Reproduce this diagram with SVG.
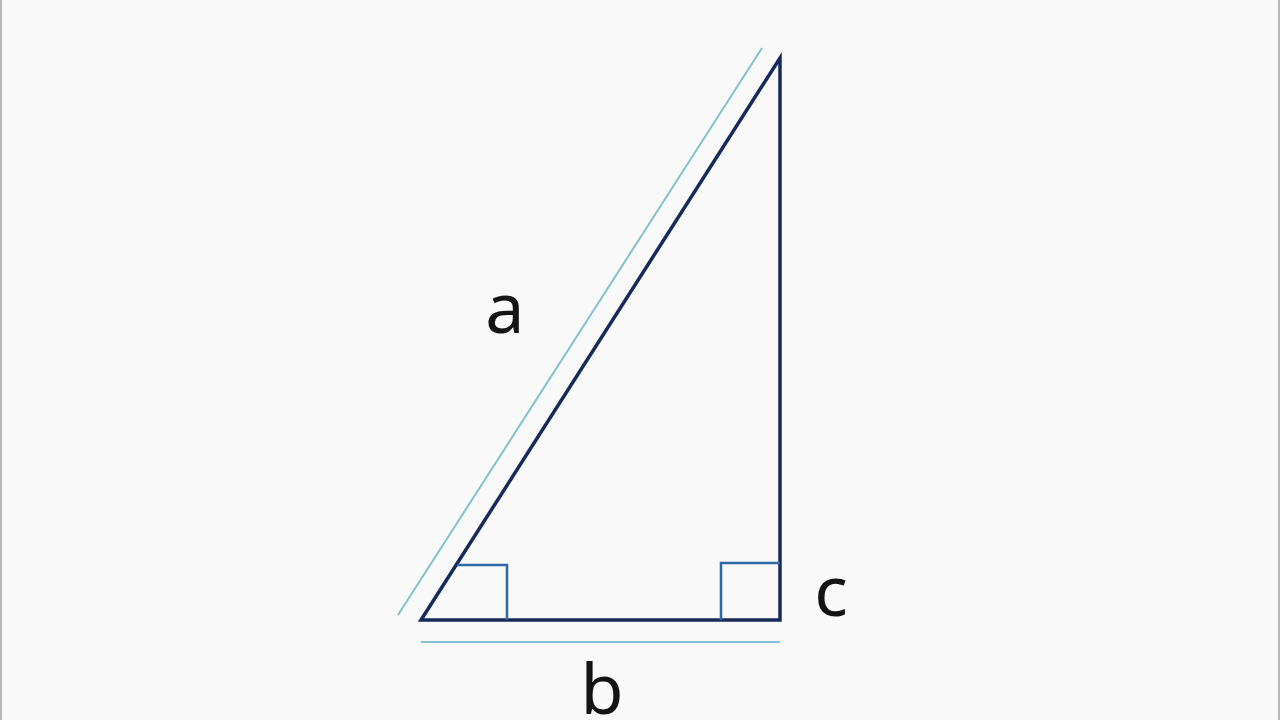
<svg xmlns="http://www.w3.org/2000/svg" width="1280" height="720" viewBox="0 0 1280 720">
<style>
.tri{fill:none;stroke:#172a5c;stroke-width:3.5;stroke-linejoin:miter}
.sq{fill:none;stroke:#2c6aa6;stroke-width:2.5}
.guide{stroke:#84c0d2;stroke-width:2}
.lbl{font-family:"Noto Sans","Liberation Sans",sans-serif;font-size:70px;fill:#141414;text-anchor:middle}
</style>
<rect width="1280" height="720" fill="#f9f9f9"/>
<rect x="0" y="0" width="2" height="720" fill="#b8b8b8"/>
<rect x="1278" y="0" width="2" height="720" fill="#b8b8b8"/>
<g id="triangle">
<polygon class="tri" points="421,620 780,58 780,620"/>
</g>
<g id="right-angle-markers">
<polyline class="sq" points="457,565 507,565 507,620"/>
<polyline class="sq" points="721,620 721,563 780,563"/>
</g>
<g id="guides">
<line class="guide" x1="398" y1="615" x2="762" y2="48"/>
<line class="guide" x1="421" y1="642" x2="780" y2="642" stroke="#8dbcd6"/>
</g>
<g id="labels">
<text class="lbl" x="505" y="333">a</text>
<text class="lbl" x="602" y="714">b</text>
<text class="lbl" x="831" y="616">c</text>
</g>
</svg>
